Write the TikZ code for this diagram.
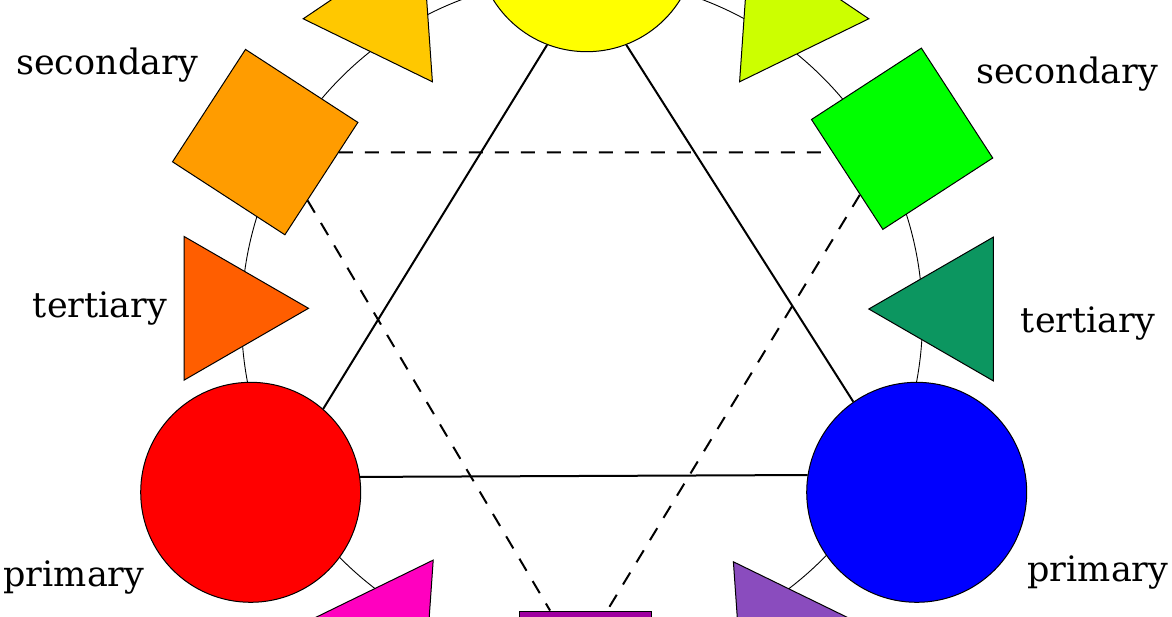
\documentclass[tikz,border=0pt]{standalone}
\usepackage{fontspec}
\setmainfont{DejaVu Serif}
\usetikzlibrary{shapes.geometric}
\definecolor{cY}{HTML}{FFFF00}
\definecolor{cYO}{HTML}{FFC800}
\definecolor{cO}{HTML}{FF9C00}
\definecolor{cRO}{HTML}{FF5E00}
\definecolor{cR}{HTML}{FF0000}
\definecolor{cRV}{HTML}{FF00BF}
\definecolor{cV}{HTML}{A000A0}
\definecolor{cBV}{HTML}{8A4CBE}
\definecolor{cB}{HTML}{0000FF}
\definecolor{cBG}{HTML}{0C9660}
\definecolor{cG}{HTML}{00FF00}
\definecolor{cYG}{HTML}{CCFF00}
\begin{document}
\begin{tikzpicture}[x=1pt,y=-1pt,
  prim/.style={circle, draw=black, line width=1pt, inner sep=0pt, minimum size=220pt},
  sec/.style={regular polygon, regular polygon sides=4, draw=black, line width=1pt, inner sep=0pt},
  ter/.style={regular polygon, regular polygon sides=3, draw=black, line width=1pt, inner sep=0pt, minimum size=166pt},
  solidline/.style={line width=2pt},
  dashline/.style={line width=2pt, dash pattern=on 14pt off 12pt},
  ring/.style={line width=0.9pt},
  lbl/.style={font=\fontsize{35}{40}\selectfont, anchor=base, inner sep=0pt}]
\useasboundingbox (0,0) rectangle (1172,616);
\clip (0,0) rectangle (1172,616);
\coordinate (ctr) at (582,318.2);
\draw[ring] (ctr) circle[radius=340.5];
% primaries
\node[prim, fill=cY] (Y) at (586.7,-58.3) {};
\node[prim, fill=cR] (R) at (250.7,492.3) {};
\node[prim, fill=cB] (B) at (916.7,492.3) {};
% secondaries
\node[sec, fill=cO, minimum size=189.5pt, shape border rotate=-33] (O) at (265.2,142.1) {};
\node[sec, fill=cG, minimum size=185.3pt, shape border rotate=33] (G) at (902.1,138.75) {};
\node[sec, fill=cV, minimum size=187.2pt] (V) at (585.5,677.2) {};
% tertiaries
\node[ter, fill=cYO, shape border rotate=-146] (YO) at (386,13) {};
\node[ter, fill=cYG, shape border rotate=146] (YG) at (786,13) {};
\node[ter, fill=cRO, shape border rotate=-90] (RO) at (225.5,308.3) {};
\node[ter, fill=cBG, shape border rotate=90] (BG) at (951.8,309) {};
\node[ter, fill=cRV, shape border rotate=-34] (RV) at (386.8,628.9) {};
\node[ter, fill=cBV, shape border rotate=34] (BV) at (779.8,630.6) {};
% primary triangle
\draw[solidline] (Y.-111.2) -- (R.49.2);
\draw[solidline] (Y.-69.7) -- (B.125.8);
\draw[solidline] (R.8.2) -- (B.171.8);
% secondary triangle
\draw[dashline] (O.-8.7) -- (G.-169.5);
\draw[dashline] (O.-54.4) -- (V.118.2);
\draw[dashline] (G.-127.1) -- (V.72.8);
% labels
\node[lbl] (s1) at (107,74) {secondary};
\node[lbl] (s2) at (1067,83) {secondary};
\node[lbl] (t1) at (100,317) {tertiary};
\node[lbl] (t2) at (1088,332) {tertiary};
\node[lbl] (p1) at (74,586.7) {primary};
\node[lbl] (p2) at (1098,581.7) {primary};
\end{tikzpicture}
\end{document}
